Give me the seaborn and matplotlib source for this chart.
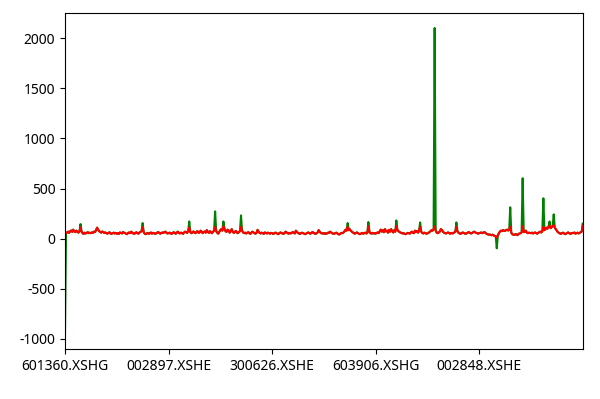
import numpy as np
import pandas as pd
import matplotlib
matplotlib.use("Agg")
import matplotlib.pyplot as plt
import seaborn as sns

# ---- data ----
# x axis: ~1001 stock codes, one value read every 2 codes
step = 2
tick_labels = ["601360.XSHG", "002897.XSHE", "300626.XSHE", "603906.XSHG", "002848.XSHE"]
tick_every = 200

red_vals = [
    45, 55, 62, 70, 58, 75, 82, 68, 90, 72, 65, 80, 70, 60, 75, 112, 70, 55, 48, 60, 52, 58, 65, 55, 60,
    55, 62, 58, 70, 65, 85, 110, 90, 75, 68, 60, 72, 65, 58, 62, 55, 50, 58, 64, 52, 48, 55, 60, 52, 58,
    50, 55, 48, 62, 58, 52, 66, 60, 55, 50, 45, 58, 62, 55, 70, 60, 52, 48, 58, 64, 55, 50, 62, 68, 75,
    115, 65, 50, 45, 52, 58, 48, 55, 62, 50, 58, 55, 48, 52, 60, 66, 58, 50, 55, 62, 58, 65, 70, 58, 52,
    55, 60, 52, 48, 58, 65, 55, 50, 62, 70, 58, 52, 60, 55, 48, 62, 70, 65, 58, 75, 112, 68, 55, 60, 72,
    62, 55, 68, 75, 58, 62, 80, 70, 55, 65, 72, 60, 85, 68, 58, 75, 62, 55, 70, 80, 118, 75, 60, 50, 68,
    85, 95, 80, 125, 100, 75, 68, 90, 82, 60, 72, 95, 70, 58, 65, 78, 60, 55, 68, 75, 120, 80, 62, 55, 60,
    52, 58, 65, 55, 48, 60, 70, 62, 55, 50, 58, 88, 70, 58, 52, 60, 55, 48, 62, 58, 52, 60, 55, 50, 58,
    55, 48, 52, 60, 58, 50, 45, 55, 62, 58, 52, 48, 55, 70, 62, 55, 50, 58, 52, 60, 66, 58, 52, 80, 65,
    58, 52, 48, 55, 60, 55, 50, 45, 52, 58, 62, 55, 50, 58, 66, 60, 52, 48, 55, 62, 85, 70, 58, 52, 55,
    50, 55, 48, 52, 60, 58, 70, 62, 55, 50, 48, 55, 60, 52, 45, 42, 50, 58, 55, 62, 75, 90, 80, 118, 85,
    95, 80, 70, 62, 55, 50, 58, 62, 55, 48, 45, 52, 58, 50, 55, 60, 52, 58, 125, 70, 55, 50, 58, 52, 55,
    50, 58, 62, 55, 75, 90, 70, 85, 65, 95, 72, 80, 60, 88, 70, 95, 75, 62, 85, 70, 125, 90, 75, 68, 60,
    58, 52, 55, 48, 45, 52, 58, 55, 50, 62, 70, 58, 55, 80, 68, 75, 60, 85, 120, 70, 58, 52, 60, 55, 50,
    52, 58, 65, 75, 85, 80, 95, 122, 80, 60, 55, 62, 70, 95, 88, 70, 60, 55, 52, 58, 62, 55, 50, 58, 52,
    55, 62, 70, 115, 75, 60, 52, 48, 55, 62, 58, 52, 48, 55, 60, 66, 58, 52, 55, 62, 70, 65, 58, 55, 50,
    55, 58, 62, 55, 60, 66, 58, 50, 45, 40, 42, 38, 35, 40, 32, 28, 25, 10, 30, 55, 70, 80, 75, 85, 80,
    78, 85, 90, 82, 88, 120, 60, 45, 40, 38, 45, 42, 35, 48, 52, 55, 62, 125, 70, 65, 80, 62, 55, 60, 58,
    55, 60, 52, 58, 62, 55, 50, 58, 65, 70, 62, 75, 118, 85, 95, 110, 100, 120, 130, 105, 115, 125, 135, 110, 95,
    80, 65, 58, 52, 48, 55, 60, 52, 45, 50, 58, 62, 55, 48, 52, 58, 55, 62, 50, 55, 60, 52, 58, 65, 70,
    130,
]

# green series equals red except at these code positions
green_spike_pos = [0, 30, 150, 240, 290, 306, 340, 546, 586, 640, 686, 714, 756, 834, 860, 884, 924, 936, 944, 1000]
green_spike_val = [-948, 146, 156, 172, 272, 172, 232, 156, 166, 182, 162, 2102, 162, -96, 313, 603, 403, 172, 243, 150]

# ---- build frame ----
pos = np.arange(len(red_vals)) * step
red = pd.Series(red_vals, index=pos, dtype=float)
green = red.copy()
green.loc[green_spike_pos] = green_spike_val
df = pd.DataFrame({"pos": pos, "green": green.values, "red": red.values})

plt.rcParams["axes.unicode_minus"] = False
plt.rcParams["font.family"] = ["Noto Sans", "DejaVu Sans"]
fig = plt.figure(figsize=(6, 3.99), dpi=100)
ax = fig.add_axes([0.1083, 0.1253, 0.8629, 0.8429])

sns.lineplot(data=df, x="pos", y="green", color="green", linewidth=1.5,
             estimator=None, sort=False, ax=ax)
sns.lineplot(data=df, x="pos", y="red", color="red", linewidth=1.5,
             estimator=None, sort=False, ax=ax)

ax.set_xlim(pos[0], pos[-1])
ticks = np.arange(0, tick_every * len(tick_labels), tick_every)
ax.set_xticks(ticks)
ax.set_xticklabels(tick_labels, fontsize=10)
ax.tick_params(axis="y", labelsize=10)
ax.set_xlabel("")
ax.set_ylabel("")
fig.savefig("out.png", dpi=100)
